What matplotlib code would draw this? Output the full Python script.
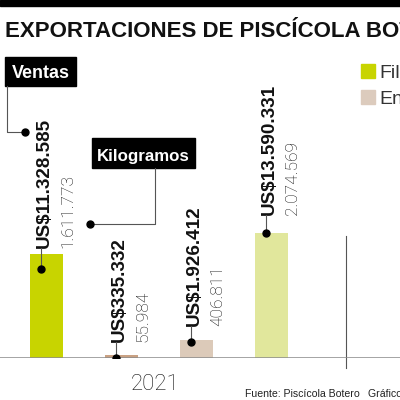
import matplotlib
matplotlib.use("Agg")
import matplotlib.pyplot as plt
from matplotlib import font_manager
from matplotlib.patches import Rectangle, Patch
from matplotlib.lines import Line2D

# --- data ---
productos = ['Filete', 'Entero', 'Entero', 'Filete']
ventas_usd = [11328585, 335332, 1926412, 13590331]
kilogramos = [1611773, 55984, 406811, 2074569]
bar_colors = ['#c8d400', '#c9a183', '#dccab9', '#e1e79c']
legend_labels = ['Filete', 'Entero']
legend_colors = ['#c8d400', '#dccbbd']
year_label = '2021'

# --- fonts ---
_names = {f.name for f in font_manager.fontManager.ttflist}


def pick(*cands):
    for c in cands:
        if c in _names:
            return c
    return 'DejaVu Sans'


BOLD = pick('Liberation Sans', 'Roboto')
LIGHT = pick('Roboto', 'Open Sans', 'Lato')
NARROW = pick('Liberation Sans Narrow', 'Liberation Sans')

W, H = 400, 400


def fx(px):
    return px / W


def fy(py):
    # py measured from the top of the image
    return 1 - py / H


fig = plt.figure(figsize=(4, 4), dpi=100)

# plotting area: baseline sits 358 px from the top
ax = fig.add_axes([0, fy(358), 1, 358 / H])
ax.set_xlim(-0.62, 4.713)
ax.set_ylim(0, 38.9e6)
ax.axis('off')

xpp = (4.713 + 0.62) / W        # data units per pixel, x
ypp = 38.9e6 / 358              # data units per pixel, y

x = list(range(len(ventas_usd)))
ax.bar(x, ventas_usd, width=0.44, color=bar_colors, zorder=2)
ax.axhline(0, color='#8c8c8c', lw=1.1, zorder=3)

# separator after the 2021 group
ax.plot([3.99, 3.99], [-10 * ypp, 122 * ypp], color='#555555', lw=0.8,
        clip_on=False)

# value labels and connectors
gap = [6, 13, 14, 18]        # px between bar top and label
drop = [15, 3, 2, 0]         # px the dot sits below the bar top
for i, (v, kg) in enumerate(zip(ventas_usd, kilogramos)):
    lx = i - 6 * xpp
    y_text = v + gap[i] * ypp
    y_dot = v - drop[i] * ypp
    ax.plot([lx, lx], [y_dot, y_text], color='#555555', lw=0.8, zorder=4)
    ax.plot(lx, y_dot, 'o', color='black', ms=5, zorder=5)
    usd = 'US$' + f'{v:,}'.replace(',', '.')
    ax.text(i - 2 * xpp, y_text, usd, rotation=90, ha='center', va='bottom',
            fontsize=13.6, fontweight='bold', family=BOLD, color='#111111')
    ax.text(i + 21 * xpp, y_text, f'{kg:,}'.replace(',', '.'), rotation=90,
            ha='center', va='bottom', fontsize=12.5, fontweight='light',
            family=LIGHT, color='#111111')

ax.text(1.45, -32 * ypp, year_label, ha='center', va='baseline',
        fontsize=16, fontweight='light', family=LIGHT, color='#111111')

# top rule and title
fig.patches.append(Rectangle((0, fy(6)), 1, 6 / H, transform=fig.transFigure,
                             color='black'))
fig.text(fx(5), fy(37), 'EXPORTACIONES DE PISCÍCOLA BOTERO', fontsize=16.0,
         fontweight='bold', family=BOLD, color='#111111', va='baseline')

# tag boxes
fig.patches.append(Rectangle((fx(5), fy(86)), 71 / W, 29 / H,
                             transform=fig.transFigure, color='black'))
fig.text(fx(40.5), fy(78), 'Ventas', ha='center', va='baseline', color='white',
         fontsize=13, fontweight='bold', family=BOLD)
fig.patches.append(Rectangle((fx(92), fy(168)), 103 / W, 30 / H,
                             transform=fig.transFigure, color='black'))
fig.text(fx(143.5), fy(161), 'Kilogramos', ha='center', va='baseline',
         color='white', fontsize=12.2, fontweight='bold', family=BOLD)

# tag leaders
fig.add_artist(Line2D([fx(7), fx(7), fx(25)], [fy(86), fy(132), fy(132)],
                      color='#555555', lw=0.8))
fig.add_artist(Line2D([fx(25)], [fy(132)], marker='o', ms=5, color='black'))
fig.add_artist(Line2D([fx(155), fx(155), fx(90)], [fy(168), fy(224), fy(224)],
                      color='#555555', lw=0.8))
fig.add_artist(Line2D([fx(90)], [fy(224)], marker='o', ms=5, color='black'))

# legend
handles = [Patch(color=c, label=l) for c, l in zip(legend_colors, legend_labels)]
fig.legend(handles=handles, loc='upper left', bbox_to_anchor=(fx(361), fy(64)),
           frameon=False, borderpad=0, borderaxespad=0, handlelength=0.7,
           handleheight=0.7, handletextpad=0.25, labelspacing=0.45,
           prop={'family': BOLD, 'size': 14}, labelcolor='#333333')

# footer
fig.text(fx(245), fy(397), 'Fuente: Piscícola Botero', fontsize=7.6,
         family=NARROW, color='#222222', va='baseline')
fig.text(fx(368), fy(397), 'Gráfico: LR', fontsize=7.6,
         family=NARROW, color='#222222', va='baseline')

fig.savefig('out.png', dpi=100)
